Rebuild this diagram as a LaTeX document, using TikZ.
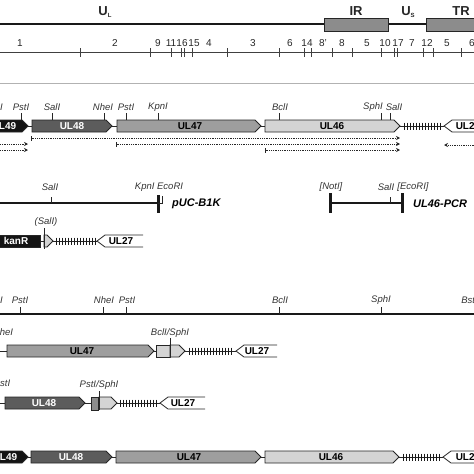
\documentclass[tikz,border=0pt]{standalone}
\usepackage{fontspec}
\setmainfont{Liberation Sans}
\usepackage{xcolor}
\usetikzlibrary{positioning, arrows.meta}

\definecolor{gUL49}{gray}{0.08}
\definecolor{gUL48}{gray}{0.36}
\definecolor{gUL47}{gray}{0.62}
\definecolor{gUL46}{gray}{0.83}
\definecolor{gBox}{gray}{0.55}

% gene pointing right: x start, x end, y centre, fill
\newcommand{\genefwd}[4]{%
  \draw[gene, fill=#4] (#1,#3-6) -- (#2-6,#3-6) -- (#2,#3)
    -- (#2-6,#3+6) -- (#1,#3+6) -- cycle;}
% UL27 pointing left, open at its right end: tip x, end x, y centre
\newcommand{\generev}[3]{%
  \fill[white] (#1,#3) -- (#1+8,#3-6) -- (#2,#3-6) -- (#2,#3+6)
    -- (#1+8,#3+6) -- cycle;
  \draw[gene] (#2,#3-6) -- (#1+8,#3-6) -- (#1,#3) -- (#1+8,#3+6) -- (#2,#3+6);}
% repeat stretch: x start, number of steps, y centre
\newcommand{\repeats}[3]{%
  \foreach \k in {0,...,#2}
    \draw[rep] (#1+3*\k,#3-3.5) -- (#1+3*\k,#3+3.5);}

\begin{document}
\begin{tikzpicture}[
    x=1pt, y=-1pt,
    gene/.style={draw=black!85, line width=0.8pt, line join=miter},
    genelbl/.style={font=\fontsize{10}{11}\selectfont\bfseries, inner sep=0pt},
    sitelbl/.style={font=\fontsize{9.5}{10}\selectfont\itshape, text=black!80,
                    inner sep=0pt},
    numlbl/.style={font=\fontsize{10}{11}\selectfont, text=black!85, inner sep=0pt},
    toplbl/.style={font=\fontsize{13}{14}\selectfont\bfseries, text=black!85,
                   inner sep=0pt},
    plaslbl/.style={font=\fontsize{11}{12}\selectfont\bfseries\itshape,
                    anchor=west, inner sep=0pt},
    ruler/.style={line width=0.7pt, black!75},
    thickline/.style={line width=2pt, black!90},
    backbone/.style={line width=0.8pt, black!85},
    site/.style={line width=0.8pt, black!85},
    endbar/.style={line width=3pt, black!90},
    rep/.style={line width=0.9pt, black!90},
    sep/.style={line width=0.8pt, gray!60},
    frag/.style={densely dotted, line width=0.8pt, black!85,
                 {Bar[width=5pt, line width=0.7pt]}-{Stealth[length=4pt, width=4pt]}},
    fragl/.style={densely dotted, line width=0.8pt, black!85,
                  -{Stealth[length=4pt, width=4pt]}},
]
\useasboundingbox (0,0) rectangle (474,474);
\clip (0,0) rectangle (474,474);

% --- Genome overview ---
\draw[thickline] (0,24) -- (474,24);
\draw[gene, fill=gBox] (324,18) rectangle (388,31);
\draw[gene, fill=gBox] (426,18) rectangle (480,31);
\node[toplbl] (ul) at (105,12)
    {U\raisebox{-1.5pt}{\fontsize{6}{6}\selectfont L}};
\node[toplbl] (ir) at (356,11) {IR};
\node[toplbl] (us) at (408,12)
    {U\raisebox{-1.5pt}{\fontsize{6}{6}\selectfont S}};
\node[toplbl] (tr) at (461,11) {TR};

% --- Fragment ruler ---
\draw[ruler] (0,52) -- (474,52);
\foreach \tx in {80,150,171,181,184,192,227,279,304,311,332,352,381,394,397,423,433,461}
    \draw[ruler] (\tx,48) -- (\tx,57);
\foreach \nx/\nt [count=\i] in {20/1, 115/2, 158/9, 171/11, 182/16, 194/15,
        209/4, 253/3, 290/6, 307/14, 323/8', 342/8, 367/5, 385/10, 398/17,
        412/7, 427/12, 447/5, 472/6}
    \node[numlbl] (n\i) at (\nx,43) {\nt};

\draw[sep] (0,83) -- (474,83);

% --- Wild-type locus ---
\draw[backbone] (0,126) -- (444,126);
\genefwd{-20}{28}{126}{gUL49}
\genefwd{32}{112}{126}{gUL48}
\genefwd{117}{261}{126}{gUL47}
\genefwd{265}{400}{126}{gUL46}
\repeats{404}{12}{126}
\generev{444}{480}{126}
\node[genelbl, text=white] (a49) at (4,126) {UL49};
\node[genelbl, text=white] (a48) at (72,126) {UL48};
\node[genelbl] (a47) at (190,126) {UL47};
\node[genelbl] (a46) at (332,126) {UL46};
\node[genelbl] (a27) at (468,126) {UL27};

\foreach \sx in {21,52,104,126,158,279,381,390}
    \draw[site] (\sx,120) -- (\sx,113);
\node[sitelbl] (a0) at (-10,107) {BstEII};
\node[sitelbl] (a1) at (21,107) {PstI};
\node[sitelbl] (a2) at (52,107) {SalI};
\node[sitelbl] (a3) at (103,107) {NheI};
\node[sitelbl] (a4) at (126,107) {PstI};
\node[sitelbl] (a5) at (158,107) {KpnI};
\node[sitelbl] (a6) at (280,107) {BclI};
\node[sitelbl] (a7) at (373,107) {SphI};
\node[sitelbl] (a8) at (394,107) {SalI};

% fragments
\draw[frag] (31,138) -- (400,138);
\draw[fragl] (0,144) -- (28,144);
\draw[frag] (116,144) -- (400,144);
\draw[fragl] (0,150) -- (28,150);
\draw[frag] (265,150) -- (400,150);
\draw[fragl] (476,145) -- (444,145);

% --- Plasmids ---
\draw[thickline] (0,203) -- (158,203);
\draw[endbar] (158,195) -- (158,213);
\draw[site] (158,203) -- (162,203) -- (162,196);
\draw[site] (51,197) -- (51,203);
\node[sitelbl] (b1) at (50,187) {SalI};
\node[sitelbl] (b2) at (159,187) {KpnI EcoRI};
\node[plaslbl] (puc) at (172,204) {pUC-B1K};

\draw[thickline] (330,203) -- (402,203);
\draw[endbar] (330,193) -- (330,213);
\draw[endbar] (402,193) -- (402,213);
\draw[site] (390,197) -- (390,203);
\node[sitelbl] (b3) at (331,187) {[NotI]};
\node[sitelbl] (b4) at (386,187) {SalI};
\node[sitelbl] (b5) at (413,187) {[EcoRI]};
\node[plaslbl] (pcr) at (413,204) {UL46-PCR};

% --- kanR cassette ---
\draw[backbone] (40,241) -- (97,241);
\draw[gene, fill=gUL49] (-5,235) rectangle (40,247);
\draw[gene, fill=gUL46] (44,235) -- (47,235) -- (53,241) -- (47,247) -- (44,247) -- cycle;
\draw[site] (44,228) -- (44,249);
\repeats{56}{13}{241}
\generev{97}{143}{241}
\node[genelbl, text=white] (kan) at (16,241) {kanR};
\node[sitelbl] (c1) at (46,222) {(SalI)};
\node[genelbl] (c27) at (121,241) {UL27};

% --- Genomic map ---
\draw[thickline] (0,314) -- (474,314);
\foreach \sx in {20,103,126,279,381,477}
    \draw[site] (\sx,314) -- (\sx,307);
\node[sitelbl] (d0) at (-10,300) {BstEII};
\node[sitelbl] (d1) at (20,300) {PstI};
\node[sitelbl] (d2) at (104,300) {NheI};
\node[sitelbl] (d3) at (127,300) {PstI};
\node[sitelbl] (d4) at (280,300) {BclI};
\node[sitelbl] (d5) at (381,300) {SphI};
\node[sitelbl] (d6) at (474,300) {BstEII};

% --- UL47 construct ---
\draw[backbone] (0,351) -- (236,351);
\genefwd{7}{154}{351}{gUL47}
\draw[gene, fill=gUL46] (156,345) rectangle (170,357);
\genefwd{170}{185}{351}{gUL46}
\draw[site] (170,338) -- (170,357);
\repeats{189}{14}{351}
\generev{236}{277}{351}
\node[sitelbl] (e0) at (3,332) {NheI};
\node[sitelbl] (e1) at (170,333) {BclI/SphI};
\node[genelbl] (e47) at (82,351) {UL47};
\node[genelbl] (e27) at (257,351) {UL27};

% --- UL48 construct ---
\draw[backbone] (0,403) -- (160,403);
\genefwd{5}{85}{403}{gUL48}
\draw[gene, fill=gBox] (91,397) rectangle (98,410);
\genefwd{99}{117}{403}{gUL46}
\draw[site] (99,391) -- (99,410);
\repeats{120}{12}{403}
\generev{160}{205}{403}
\node[sitelbl] (f0) at (2,383) {PstI};
\node[sitelbl] (f1) at (99,385) {PstI/SphI};
\node[genelbl, text=white] (f48) at (44,403) {UL48};
\node[genelbl] (f27) at (183,403) {UL27};

% --- Rescued locus ---
\draw[backbone] (0,457) -- (443,457);
\genefwd{-20}{28}{457}{gUL49}
\genefwd{31}{112}{457}{gUL48}
\genefwd{116}{261}{457}{gUL47}
\genefwd{265}{399}{457}{gUL46}
\repeats{403}{12}{457}
\generev{443}{480}{457}
\node[genelbl, text=white] (g49) at (5,457) {UL49};
\node[genelbl, text=white] (g48) at (71,457) {UL48};
\node[genelbl] (g47) at (189,457) {UL47};
\node[genelbl] (g46) at (331,457) {UL46};
\node[genelbl] (g27) at (468,457) {UL27};
\end{tikzpicture}
\end{document}
